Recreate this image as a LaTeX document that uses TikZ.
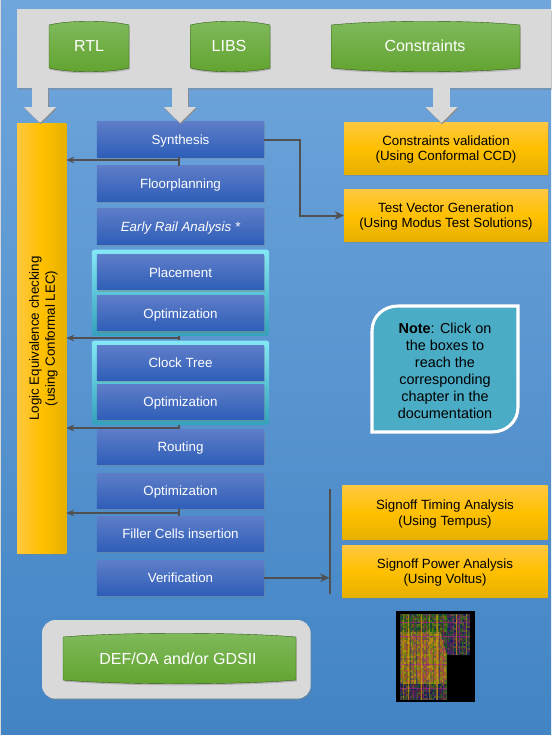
\documentclass[tikz,border=0pt]{standalone}
\usepackage{fontspec}
\setmainfont{Liberation Sans}
\usepackage{xcolor}
\usepackage{tikz}
\usetikzlibrary{positioning,arrows.meta,fit,calc,shadows,backgrounds}
\definecolor{pagetop}{RGB}{112,166,220}
\definecolor{pagebot}{RGB}{66,132,196}
\definecolor{bannergray}{RGB}{217,217,217}
\definecolor{wiregray}{RGB}{80,80,80}
\definecolor{bluetop}{RGB}{94,125,200}
\definecolor{bluebot}{RGB}{46,94,184}
\definecolor{greentop}{RGB}{127,186,92}
\definecolor{greenbot}{RGB}{98,163,47}
\definecolor{yellowtop}{RGB}{255,200,64}
\definecolor{yellowmid}{RGB}{255,192,0}
\definecolor{yellowbot}{RGB}{230,176,0}
\definecolor{framelight}{RGB}{132,232,246}
\definecolor{framedark}{RGB}{52,160,186}
\definecolor{notefill}{RGB}{75,172,198}
\definecolor{chip1}{RGB}{150,40,120}
\definecolor{chip2}{RGB}{30,120,30}
\definecolor{chip3}{RGB}{190,160,20}
\definecolor{chip4}{RGB}{150,60,40}
\definecolor{chip5}{RGB}{30,40,110}
\definecolor{chip6}{RGB}{100,150,10}
% green drum: left, right, top, bottom
\newcommand{\greendrum}[4]{%
  \path[drum] ({#1},{#3+4}) .. controls ({#1+0.25*(#2-#1)},{#3-1}) and ({#1+0.75*(#2-#1)},{#3-1}) .. ({#2},{#3+4})
    -- ({#2},{#4-4}) .. controls ({#1+0.75*(#2-#1)},{#4+1}) and ({#1+0.25*(#2-#1)},{#4+1}) .. ({#1},{#4-4}) -- cycle;}

\begin{document}
\begin{tikzpicture}[
    x=0.75pt, y=-0.75pt,
    softshadow/.style={drop shadow={opacity=0.4, shadow xshift=0.6pt, shadow yshift=-1.2pt}},
    block/.style={rectangle, softshadow, top color=bluetop, bottom color=bluebot, minimum height=26.5pt, minimum width=125.5pt, outer sep=0pt, inner sep=0pt, align=center, text=white, text height=7.2pt, text depth=0pt, font=\fontsize{10}{12}\selectfont},
    check/.style={rectangle, softshadow, top color=yellowtop, bottom color=yellowbot, middle color=yellowmid, minimum width=153pt, outer sep=0pt, align=center, text=black, text depth=0pt, font=\fontsize{10}{11.5}\selectfont},
    drum/.style={softshadow, top color=greentop, bottom color=greenbot, draw=black!45!greenbot, line width=0.3pt},
    drumtext/.style={text=white, inner sep=0pt, font=\fontsize{12}{14}\selectfont},
    group/.style={rectangle, rounded corners=2pt, top color=framelight, bottom color=framedark, inner sep=3.75pt},
    bigarrow/.style={-{Triangle[width=23.5pt, length=12pt]}, line width=12.2pt, draw=bannergray},
    bigshade/.style={-{Triangle[width=23.5pt, length=12pt]}, line width=12.2pt, draw=black!45, transform canvas={xshift=0.5pt, yshift=-1pt}},
    arrow/.style={-{Stealth[length=6pt, width=5pt]}, draw=wiregray, line width=0.8pt},
    boldarrow/.style={-{Stealth[length=7pt, width=6.5pt]}, draw=wiregray, line width=1.5pt},
    wire/.style={draw=wiregray, line width=1.3pt},
]
\useasboundingbox (0,0) rectangle (551,735);

% Page
\begin{scope}[on background layer]
\fill[top color=pagetop, bottom color=pagebot] (0,0) rectangle (551,735);
\fill[bannergray] (0,0) rectangle (1,735);
\end{scope}

% Banner and inputs
\node[rectangle, softshadow, fill=bannergray, anchor=north west, minimum width=400.5pt, minimum height=59.5pt, outer sep=0pt, inner sep=0pt] (banner) at (17,9) {};
\greendrum{49}{129}{21}{72}
\node[drumtext] (rtl) at (89,46) {RTL};
\greendrum{190.5}{270}{21}{72}
\node[drumtext] (libs) at (229,46) {LIBS};
\greendrum{331.5}{520}{21}{72}
\node[drumtext] (constraints) at (425,46) {Constraints};

% Logic equivalence bar
\node[rectangle, softshadow, left color=yellowtop, right color=yellowbot, middle color=yellowmid, anchor=north west, minimum width=37pt, minimum height=322.5pt, outer sep=0pt, inner sep=0pt] (lec) at (17,123) {};
\node[rotate=90, align=center, inner sep=0pt, font=\fontsize{10}{12}\selectfont] (lectext) at (43.5,338.5) {Logic Equivalence checking\\(using Conformal LEC)};

% Flow steps
\node[block] (synth) at (180.5,139.5) {Synthesis};
\node[block, below=6.45pt of synth] (floor) {Floorplanning};
\node[block, below=5.7pt of floor] (rail) {\itshape Early Rail Analysis *};
\node[block, below=7.95pt of rail] (place) {Placement};
\node[block, below=4.2pt of place] (optplace) {Optimization};
\node[block, below=10.95pt of optplace] (clock) {Clock Tree};
\node[block, below=2.7pt of clock] (optclock) {Optimization};
\node[block, below=7.2pt of optclock] (routing) {Routing};
\node[block, below=6.45pt of routing] (optroute) {Optimization};
\node[block, below=5.7pt of optroute] (filler) {Filler Cells insertion};
\node[block, below=6.45pt of filler] (verif) {Verification};

% Teal groups
\begin{scope}[on background layer]
\node[group, fit=(place)(optplace)] (groupone) {};
\node[group, fit=(clock)(optclock)] (grouptwo) {};
\end{scope}

% Checks on the right
\node[check, minimum height=39pt] (ccd) at (446,148) {Constraints validation\\(Using Conformal CCD)};
\node[check, minimum height=38.5pt] (modus) at (446,215.5) {Test Vector Generation\\(Using Modus Test Solutions)};
\node[check, minimum height=41pt, minimum width=154pt] (tempus) at (445,512.5) {Signoff Timing Analysis\\(Using Tempus)};
\node[check, minimum height=39pt, minimum width=154pt] (voltus) at (445,571) {Signoff Power Analysis\\(Using Voltus)};

% Big arrows
\coordinate (lecin) at (40,123);
\coordinate (synthin) at (180,123);
\coordinate (ccdin) at (441.5,123);
\foreach \target in {lecin,synthin,ccdin} {
  \draw[bigshade] (banner.south -| \target) -- (\target);
  \draw[bigarrow] (banner.south -| \target) -- (\target);
}

% Equivalence tap-offs
\coordinate (tapa) at (179,160);
\coordinate (tapb) at (179,338);
\coordinate (tapc) at (179,428);
\coordinate (tapd) at (179,513);
\draw[wire] (synth.south -| tapa) -- (floor.north -| tapa);
\draw[wire] (groupone.south -| tapb) -- (grouptwo.north -| tapb);
\draw[wire] (grouptwo.south -| tapc) -- (routing.north -| tapc);
\draw[wire] (optroute.south -| tapd) -- (filler.north -| tapd);
\foreach \tap in {tapa,tapb,tapc,tapd} {
  \draw[arrow] (\tap) -- (\tap -| lec.east);
}

% Synthesis to test vectors
\draw[boldarrow] (synth.east) -- ++(36,0) |- (modus.west);

% Verification to signoff
\coordinate (sigtop) at (329.5,489);
\coordinate (sigbot) at (329.5,594);
\draw[wire, line width=1.5pt] (sigtop) -- (sigbot);
\draw[boldarrow] (verif.east) -- (verif.east -| sigtop);

% Note
\draw[draw=white, line width=2.3pt, fill=notefill, softshadow] (372,432) -- (372,331) .. controls (372,316) and (384,306) .. (398,306)
  -- (518,306) -- (518,407) .. controls (518,422) and (506,432) .. (492,432) -- cycle;
\node[align=center, inner sep=0pt, font=\fontsize{10.8}{12.75}\selectfont] (note) at (445,371) {\textbf{Note}: Click on\\the boxes to\\reach the\\corresponding\\chapter in the\\documentation};

% Output
\node[rectangle, softshadow, rounded corners=10pt, fill=bannergray, anchor=north west, minimum width=201.5pt, minimum height=59pt, outer sep=0pt] (output) at (42,620) {};
\greendrum{63}{296}{633}{684}
\node[drumtext] (def) at (178,659) {DEF/OA and/or GDSII};

% Layout thumbnail
\fill[black] (396,611) rectangle (475,702);
\pgfmathsetseed{11}
\begin{scope}
\clip (400,614) -- (470,614) -- (470,655) -- (447,655) -- (447,700) -- (400,700) -- cycle;
\fill[chip3!80!black] (400,614) rectangle (470,700);
\fill[chip4!40!chip3] (416,640) rectangle (447,680);
\fill[chip5!70!black] (435,614) -- (470,614) -- (470,655) -- (447,655) -- cycle;
\fill[chip2!70!black] (400,614) rectangle (447,632);
\fill[chip5!60!black] (400,684) rectangle (447,700);
\foreach \row in {0,...,42} {
  \foreach \col in {0,...,34} {
    \pgfmathrandominteger{\chipc}{1}{6}
    \fill[fill=chip\chipc, opacity=0.4] ({400+2*\col},{614+2*\row}) rectangle ++(2,2);
  }
}
\foreach \i in {0,...,20} {
  \pgfmathrandominteger{\chipc}{1}{6}
  \draw[draw=chip\chipc, line width=0.4pt, opacity=0.5] ({400+3.3*\i},614) -- ({400+3.3*\i},700);
}
\foreach \i in {622,636,664,688} {
  \draw[draw=chip1!80!magenta, line width=0.5pt, opacity=0.6] (400,\i) -- (470,\i);
}
\foreach \i in {408,421,437,456} {
  \draw[draw=chip3!70!orange, line width=0.6pt, opacity=0.7] (\i,614) -- (\i,700);
}
\end{scope}
\fill[black] (447,655) rectangle (475,702);

\end{tikzpicture}
\end{document}
